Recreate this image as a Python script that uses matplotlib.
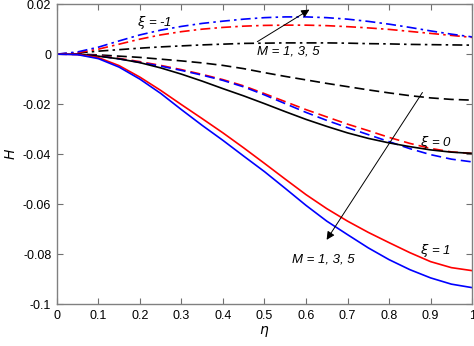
import matplotlib
matplotlib.use("Agg")
import matplotlib.pyplot as plt

eta = [0.0, 0.05, 0.1, 0.15, 0.2, 0.25, 0.3, 0.35, 0.4, 0.45, 0.5,
       0.55, 0.6, 0.65, 0.7, 0.75, 0.8, 0.85, 0.9, 0.95, 1.0]

# xi = -1 (dash-dot), M = 1, 3, 5
h_m1_dd = [0.0, 0.0004, 0.0012, 0.0018, 0.0024, 0.0029, 0.0033, 0.0037, 0.0040, 0.0043, 0.0044,
           0.0045, 0.0045, 0.0045, 0.0044, 0.0042, 0.0041, 0.0039, 0.0038, 0.0037, 0.0036]
h_m3_dd = [0.0, 0.0006, 0.0020, 0.0040, 0.0060, 0.0077, 0.0090, 0.0100, 0.0107, 0.0112, 0.0115,
           0.0116, 0.0116, 0.0114, 0.0110, 0.0105, 0.0099, 0.0091, 0.0083, 0.0075, 0.0067]
h_m5_dd = [0.0, 0.0009, 0.0028, 0.0053, 0.0077, 0.0096, 0.0111, 0.0123, 0.0132, 0.0140, 0.0146,
           0.0149, 0.0149, 0.0146, 0.0140, 0.0131, 0.0120, 0.0107, 0.0093, 0.0080, 0.0069]

# dashed, M = 1, 3, 5
h_m1_da = [0.0, 0.0, -0.0003, -0.0008, -0.0013, -0.0020, -0.0027, -0.0035, -0.0045, -0.0058, -0.0074,
           -0.0089, -0.0103, -0.0117, -0.0130, -0.0143, -0.0155, -0.0166, -0.0175, -0.0181, -0.0184]
h_m3_da = [0.0, -0.0001, -0.0006, -0.0017, -0.0030, -0.0045, -0.0062, -0.0081, -0.0102, -0.0127, -0.0158,
           -0.0190, -0.0222, -0.0251, -0.0280, -0.0306, -0.0333, -0.0357, -0.0377, -0.0391, -0.0397]
h_m5_da = [0.0, -0.0001, -0.0007, -0.0019, -0.0033, -0.0048, -0.0065, -0.0084, -0.0105, -0.0131, -0.0163,
           -0.0198, -0.0233, -0.0265, -0.0294, -0.0322, -0.0350, -0.0378, -0.0402, -0.0420, -0.0431]

# solid, M = 1, 3, 5
h_m1_so = [0.0, 0.0, -0.0008, -0.0019, -0.0034, -0.0055, -0.0080, -0.0108, -0.0138, -0.0167, -0.0198,
           -0.0230, -0.0261, -0.0289, -0.0315, -0.0337, -0.0355, -0.0370, -0.0383, -0.0392, -0.0397]
h_m3_so = [0.0, -0.0001, -0.0014, -0.0046, -0.0092, -0.0145, -0.0202, -0.0258, -0.0315, -0.0375, -0.0437,
           -0.0500, -0.0562, -0.0618, -0.0668, -0.0713, -0.0754, -0.0794, -0.0830, -0.0854, -0.0866]
h_m5_so = [0.0, -0.0002, -0.0018, -0.0052, -0.0100, -0.0157, -0.0222, -0.0285, -0.0345, -0.0408, -0.0470,
           -0.0537, -0.0605, -0.0668, -0.0722, -0.0775, -0.0822, -0.0862, -0.0895, -0.0920, -0.0934]

x_ticks = [0, 0.1, 0.2, 0.3, 0.4, 0.5, 0.6, 0.7, 0.8, 0.9, 1]
x_labels = ["0", "0.1", "0.2", "0.3", "0.4", "0.5", "0.6", "0.7", "0.8", "0.9", "1"]
y_ticks = [-0.1, -0.08, -0.06, -0.04, -0.02, 0, 0.02]
y_labels = ["-0.1", "-0.08", "-0.06", "-0.04", "-0.02", "0", "0.02"]

plt.rcParams["font.family"] = ["Liberation Sans", "DejaVu Sans"]

fig = plt.figure(figsize=(4.74, 3.46), dpi=100)
ax = fig.add_axes([0.120, 0.121, 0.876, 0.867])

lw = 1.2
dd = (0, (6, 2.5, 1.5, 2.5))
da = (0, (6, 3))
ax.plot(eta, h_m1_dd, color="black", ls=dd, lw=lw)
ax.plot(eta, h_m3_dd, color="red", ls=dd, lw=lw)
ax.plot(eta, h_m5_dd, color="blue", ls=dd, lw=lw)
ax.plot(eta, h_m1_da, color="black", ls=da, lw=lw)
ax.plot(eta, h_m3_da, color="red", ls=da, lw=lw)
ax.plot(eta, h_m5_da, color="blue", ls=da, lw=lw)
ax.plot(eta, h_m1_so, color="black", ls="-", lw=lw)
ax.plot(eta, h_m3_so, color="red", ls="-", lw=lw)
ax.plot(eta, h_m5_so, color="blue", ls="-", lw=lw)

ax.set_xlim(0, 1)
ax.set_ylim(-0.1, 0.02)
ax.set_xticks(x_ticks)
ax.set_xticklabels(x_labels)
ax.set_yticks(y_ticks)
ax.set_yticklabels(y_labels)
ax.tick_params(direction="in", top=True, right=True, length=4, width=0.8,
               color="#707070", labelsize=9, pad=4)
for s in ax.spines.values():
    s.set_color("#808080")
    s.set_linewidth(1.0)

ax.set_xlabel(r"$\eta$", fontsize=10, labelpad=2)
ax.set_ylabel("H", fontsize=10, style="italic", labelpad=4)

tfs = 9.5
ax.text(0.236, 0.0125, r"$\xi$ = -1", fontsize=tfs, style="italic", ha="center", va="center")
ax.text(0.914, -0.0352, r"$\xi$ = 0", fontsize=tfs, style="italic", ha="center", va="center")
ax.text(0.911, -0.0784, r"$\xi$ = 1", fontsize=tfs, style="italic", ha="center", va="center")
ax.text(0.557, 0.0009, "M = 1, 3, 5", fontsize=tfs, style="italic", ha="center", va="center")
ax.text(0.642, -0.0820, "M = 1, 3, 5", fontsize=tfs, style="italic", ha="center", va="center")

arrow = dict(arrowstyle="-|>", color="black", lw=0.7, mutation_scale=12)
ax.annotate("", xy=(0.614, 0.0184), xytext=(0.477, 0.0044), arrowprops=arrow)
ax.annotate("", xy=(0.646, -0.0752), xytext=(0.884, -0.0144), arrowprops=arrow)

fig.savefig("out.png", dpi=100)
